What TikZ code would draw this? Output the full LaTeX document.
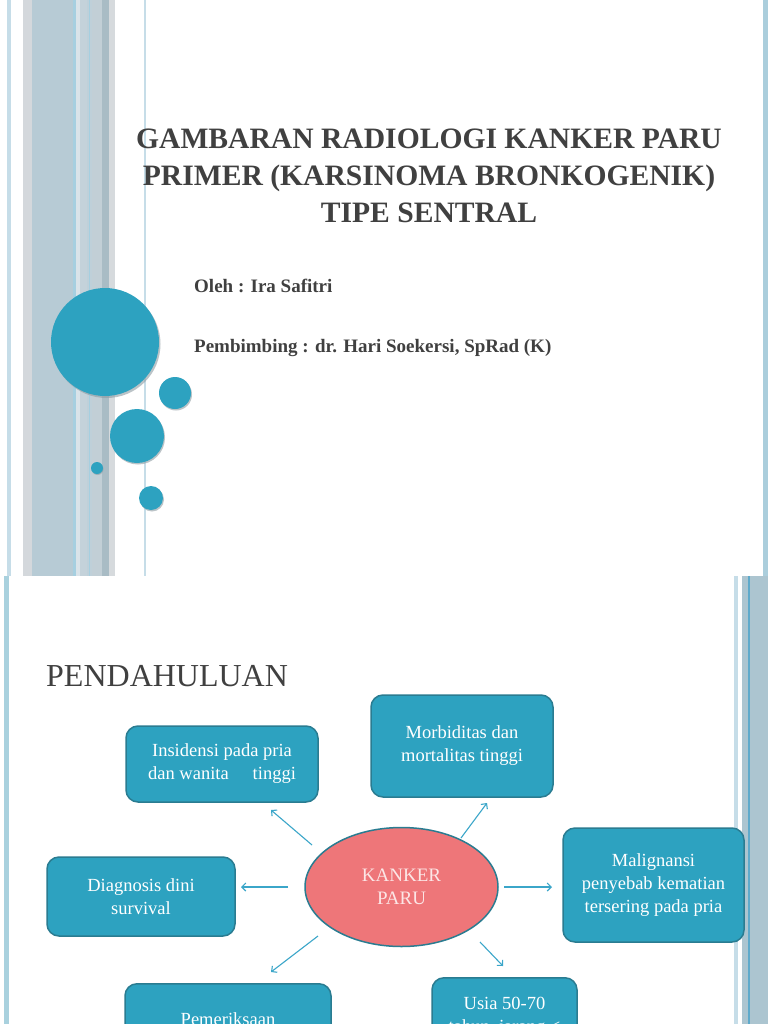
\documentclass[tikz,border=0pt]{standalone}
\usepackage{fontspec}
\setmainfont{Liberation Serif}
\usetikzlibrary{arrows.meta,shapes.geometric}
\definecolor{tealfill}{HTML}{2DA2C0}
\definecolor{tealedge}{HTML}{2A7C91}
\definecolor{pinkfill}{HTML}{EE7679}
\definecolor{pinktext}{HTML}{FCE6E6}
\definecolor{arrowc}{HTML}{3BA6C9}
\definecolor{titlegray}{HTML}{404040}
\definecolor{shadowc}{HTML}{8E9CA3}
\definecolor{stA}{HTML}{C6DDE8}
\definecolor{stB}{HTML}{D4D8DC}
\definecolor{stC}{HTML}{B7CBD5}
\definecolor{stD}{HTML}{A6CFE0}
\definecolor{stE}{HTML}{D9E3E9}
\definecolor{stF}{HTML}{C4D2DA}
\definecolor{stG}{HTML}{BFD0D9}
\definecolor{stH}{HTML}{C2CFD6}
\definecolor{stI}{HTML}{A9BCC5}
\definecolor{stJ}{HTML}{D6DADD}
\definecolor{stK}{HTML}{A9D1DE}
\definecolor{stL}{HTML}{ABCEDC}
\definecolor{stM}{HTML}{ACC5D0}
\definecolor{stN}{HTML}{5EAACB}
\newcommand\bxfont{\fontsize{18.5}{23}\selectfont}
\tikzset{
  box/.style={draw=tealedge, line width=1.5pt, fill=tealfill, rounded corners=12pt,
    text=white, font=\bxfont, align=center, inner sep=0pt},
  boxtext/.style={text=white, font=\bxfont, align=center, inner sep=0pt},
  arr/.style={draw=arrowc, line width=1.1pt, -{Straight Barb[length=4pt,width=8pt]}},
  bubble/.style={fill=tealfill},
  bubbleshadow/.style={fill=shadowc, opacity=0.6}
}
\begin{document}
\begin{tikzpicture}[x=1pt,y=-1pt]
\useasboundingbox (0,0) rectangle (768,1024);
\clip (0,0) rectangle (768,1024);
\fill[white] (0,0) rectangle (768,1024);
% ---------- top slide stripes ----------
\fill[stA] (7,0) rectangle (10.5,576);
\fill[stB] (23,0) rectangle (32,576);
\fill[stC] (32,0) rectangle (73,576);
\fill[stD] (73,0) rectangle (76,576);
\fill[stE] (76,0) rectangle (80,576);
\fill[stF] (80,0) rectangle (87,576);
\fill[stG] (87,0) rectangle (92,576);
\fill[stD] (89,0) rectangle (90,576);
\fill[stH] (92,0) rectangle (102,576);
\fill[stI] (102,0) rectangle (109,576);
\fill[stJ] (109,0) rectangle (115,576);
\fill[stA] (143.5,0) rectangle (146,576);
\fill[stL] (763,0) rectangle (768,576);
% ---------- bottom slide stripes ----------
\fill[stK] (4,576) rectangle (9,1024);
\fill[stA] (734,576) rectangle (738,1024);
\fill[stM] (742,576) rectangle (768,1024);
\fill[stN] (748.3,576) rectangle (750,1024);
% ---------- circles ----------
\fill[bubbleshadow] (106.5,344) circle (54);
\fill[bubble] (105,342) circle (54);
\fill[bubbleshadow] (176,394.5) circle (16);
\fill[bubble] (175,393) circle (16);
\fill[bubbleshadow] (138,437.5) circle (27);
\fill[bubble] (137,436) circle (27);
\fill[bubbleshadow] (97.5,469) circle (6);
\fill[bubble] (97,468) circle (6);
\fill[bubbleshadow] (152,499.5) circle (12);
\fill[bubble] (151,498) circle (12);
% ---------- title slide text ----------
\node[anchor=north, inner sep=0pt, align=center, text=titlegray,
  font=\fontsize{29.6}{37}\selectfont\bfseries] (title) at (429,129)
  {GAMBARAN RADIOLOGI KANKER PARU\\PRIMER (KARSINOMA BRONKOGENIK)\\TIPE SENTRAL};
\node[anchor=base west, inner sep=0pt, text=titlegray,
  font=\fontsize{19}{23}\selectfont\bfseries] (oleh) at (194,292) {Oleh : Ira Safitri};
\node[anchor=base west, inner sep=0pt, text=titlegray,
  font=\fontsize{19}{23}\selectfont\bfseries] (pemb) at (194,352) {Pembimbing : dr. Hari Soekersi, SpRad (K)};
% ---------- second slide ----------
\node[anchor=base west, inner sep=0pt, text=titlegray,
  font=\fontsize{32}{38}\selectfont] (head) at (46,686) {PENDAHULUAN};
\node[ellipse, draw=tealedge, line width=1.5pt, fill=pinkfill, minimum width=193pt,
  minimum height=119pt, inner sep=0pt, text=pinktext, align=center,
  font=\fontsize{19}{23}\selectfont] (k) at (401.5,887) {KANKER\\PARU};
\node[box, minimum width=192pt, minimum height=76pt] (b1) at (222,764)
  {Insidensi pada pria\\dan wanita\hspace{24pt}tinggi};
\node[box, minimum width=182pt, minimum height=102pt] (b2) at (462,746)
  {Morbiditas dan\\mortalitas tinggi};
\node[box, minimum width=188pt, minimum height=79pt] (b3) at (141,896.5)
  {Diagnosis dini\\survival};
\node[box, minimum width=181pt, minimum height=114pt] (b4) at (653.5,885)
  {Malignansi\\penyebab kematian\\tersering pada pria};
\node[box, minimum width=206pt, minimum height=110pt, anchor=north] (b5) at (228,983) {};
\node[boxtext, anchor=base] (b5t) at (228,1025) {Pemeriksaan};
\node[box, minimum width=145pt, minimum height=110pt, anchor=north] (b6) at (504.5,977) {};
\node[boxtext, anchor=base] (b6t) at (504.5,1009) {Usia 50-70};
\node[boxtext, anchor=base] (b6u) at (504.5,1032) {tahun, jarang <};
% ---------- arrows ----------
\coordinate (a1s) at (312,845); \coordinate (a1e) at (271,810);
\coordinate (a2s) at (461,838); \coordinate (a2e) at (487,803);
\coordinate (a3s) at (288,887); \coordinate (a3e) at (241,887);
\coordinate (a4s) at (504,887); \coordinate (a4e) at (552,887);
\coordinate (a5s) at (318,936); \coordinate (a5e) at (271,972);
\coordinate (a6s) at (480,942); \coordinate (a6e) at (503,966);
\draw[arr] (a1s) -- (a1e);
\draw[arr] (a2s) -- (a2e);
\draw[arr] (a3s) -- (a3e);
\draw[arr] (a4s) -- (a4e);
\draw[arr] (a5s) -- (a5e);
\draw[arr] (a6s) -- (a6e);
\end{tikzpicture}
\end{document}
